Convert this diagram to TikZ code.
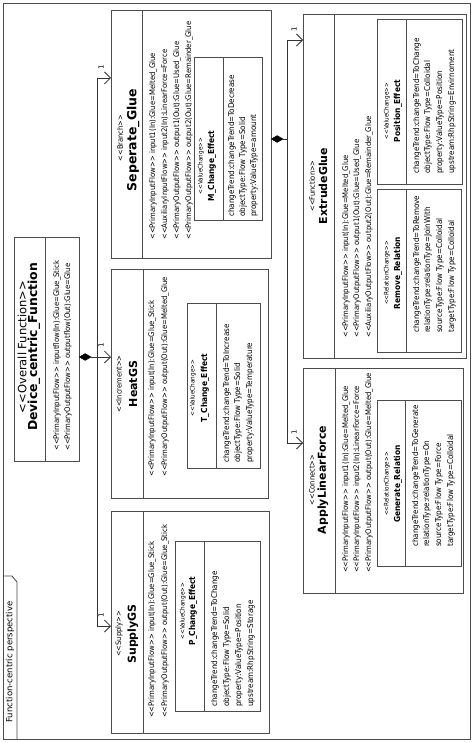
\documentclass[tikz,border=0pt]{standalone}
\usepackage{fontspec}
\usetikzlibrary{arrows.meta,shapes.geometric}
\setmainfont{DejaVu Sans}
\IfFontExistsTF{DejaVu Sans Condensed}
 {\newfontfamily\cf{DejaVu Sans Condensed}}
 {\newfontfamily\cf{DejaVu Sans}[FakeStretch=0.9]}
\newfontfamily\df{DejaVu Sans}
\newcommand\fz[1]{\fontsize{#1}{#1}\selectfont}
\newcommand\stereo[1]{<{}<#1>{}>}
\newcommand\attrf{\cf\fz{7.7}}
\newcommand\iattrf{\cf\fz{8}}
\begin{document}
\begin{tikzpicture}[x=1pt,y=-1pt,
  frm/.style={draw=black!70, line width=0.9pt},
  boxline/.style={draw=black!70, line width=0.9pt},
  umlbox/.style={boxline, rectangle, anchor=north west, inner sep=0, outer sep=0},
  ln/.style={rotate=90, anchor=west, inner sep=0, font=\attrf, text height=5.6pt, text depth=1.6pt},
  iln/.style={ln, font=\iattrf},
  hd/.style={rotate=90, anchor=center, inner sep=0},
  ostereo/.style={hd, font=\cf\fz{7.5}},
  otitle/.style={hd, font=\df\bfseries\fz{11}},
  istereo/.style={hd, font=\cf\fz{6.3}},
  ititle/.style={hd, font=\cf\bfseries\fz{8.3}},
  conn/.style={draw=black!80, line width=0.8pt},
  arr/.style={conn, -{Straight Barb[length=6pt,width=12pt]}},
  dia/.style={diamond, fill=black, draw=black, inner sep=0, minimum width=12pt, minimum height=7pt, anchor=west},
  mult/.style={rotate=90, inner sep=0, font=\df\fz{7}}]
\useasboundingbox (0,0) rectangle (474,743);
\fill[white] (0,0) rectangle (474,743);
% frame
\draw[frm] (3,3) rectangle (470,739);
\draw[frm] (3,576) -- (12,576) -- (17,582) -- (17,739);
\node[hd, font=\df\fz{8.5}] (lab) at (10,662) {Function-centric perspective};

% Device_centric_Function
\node[umlbox, minimum width=65pt, minimum height=224pt] (dev) at (14,237) {};
\draw[boxline] (45,237) -- (45,461);
\node[hd, font=\df\fz{11.5}] (devS) at (22,347) {\stereo{Overall Function}};
\node[hd, font=\df\bfseries\fz{12.4}] (devT) at (34,347) {Device\_centric\_Function};
\node[ln] (devA1) at (57,451) {\stereo{PrimaryInputFlow} inputflow(In):Glue=Glue\_Stick};
\node[ln] (devA2) at (68,451) {\stereo{PrimaryOutputFlow} outputflow(Out):Glue=Glue};

% Seperate_Glue
\node[umlbox, minimum width=160pt, minimum height=248pt] (sg) at (111,10) {};
\draw[boxline] (142,10) -- (142,258);
\node[ostereo] (sgS) at (120,138) {\stereo{Branch}};
\node[otitle, font=\df\bfseries\fz{12.5}] (sgT) at (133,140) {Seperate\_Glue};
\node[ln] (sgA1) at (153,240) {\stereo{PrimaryInputFlow} input1(In):Glue=Melted\_Glue};
\node[ln] (sgA2) at (165,240) {\stereo{AuxiliaryInputFlow} input2(In):LinearForce=Force};
\node[ln] (sgA3) at (177,240) {\stereo{PrimaryOutputFlow} output1(Out):Glue=Used\_Glue};
\node[ln] (sgA4) at (189,240) {\stereo{PrimaryOutputFlow} output2(Out):Glue=Remainder\_Glue};
\node[umlbox, minimum width=68pt, minimum height=163pt] (mce) at (194,57) {};
\draw[boxline] (223,57) -- (223,220);
\node[istereo] (mceS) at (201,166) {\stereo{ValueChange}};
\node[ititle] (mceT) at (212,166) {M\_Change\_Effect};
\node[iln] (mceA1) at (232,217) {changeTrend:changeTrend=ToDecrease};
\node[iln] (mceA2) at (243,217) {objectType:Flow Type=Solid};
\node[iln] (mceA3) at (254,217) {property:ValueType=amount};

% HeatGS
\node[umlbox, minimum width=157pt, minimum height=229pt] (heat) at (111,269) {};
\draw[boxline] (143,269) -- (143,498);
\node[ostereo] (heatS) at (119,384) {\stereo{Increment}};
\node[otitle] (heatT) at (133,384) {HeatGS};
\node[ln] (heatA1) at (152,477) {\stereo{PrimaryInputFlow} input(In):Glue=Glue\_Stick};
\node[ln] (heatA2) at (165,477) {\stereo{PrimaryOutputFlow} output(Out):Glue=Melted\_Glue};
\node[umlbox, minimum width=73pt, minimum height=165pt] (tce) at (187,303) {};
\draw[boxline] (216,303) -- (216,468);
\node[istereo] (tceS) at (193,388) {\stereo{ValueChange}};
\node[ititle] (tceT) at (205,388) {T\_Change\_Effect};
\node[iln] (tceA1) at (227,463) {changeTrend:changeTrend=ToIncrease};
\node[iln] (tceA2) at (238,463) {objectType:Flow Type=Solid};
\node[iln] (tceA3) at (250,463) {property:ValueType=Temperature};

% SupplyGS
\node[umlbox, minimum width=158pt, minimum height=222pt] (sup) at (111,511) {};
\draw[boxline] (143,511) -- (143,733);
\node[ostereo] (supS) at (119,634) {\stereo{Supply}};
\node[otitle] (supT) at (133,634) {SupplyGS};
\node[ln] (supA1) at (152,718) {\stereo{PrimaryInputFlow} input(In):Glue=Glue\_Stick};
\node[ln] (supA2) at (165,718) {\stereo{PrimaryOutputFlow} output(Out):Glue=Glue\_Stick};
\node[umlbox, minimum width=85pt, minimum height=170pt] (pce) at (175,541) {};
\draw[boxline] (204,541) -- (204,711);
\node[istereo] (pceS) at (183,611) {\stereo{ValueChange}};
\node[ititle] (pceT) at (193,611) {P\_Change\_Effect};
\node[iln] (pceA1) at (215,707) {changeTrend:changeTrend=ToChange};
\node[iln] (pceA2) at (227,707) {objectType:Flow Type=Solid};
\node[iln] (pceA3) at (239,707) {property:ValueType=Position};
\node[iln] (pceA4) at (251,707) {upstream:RhpString=Storage};

% ExtrudeGlue
\node[umlbox, minimum width=163pt, minimum height=344pt] (ext) at (303,14) {};
\draw[boxline] (334,14) -- (334,358);
\node[ostereo] (extS) at (312,186) {\stereo{Function}};
\node[otitle] (extT) at (323,186) {ExtrudeGlue};
\node[ln] (extA1) at (346,338) {\stereo{PrimaryInputFlow} input(In):Glue=Melted\_Glue};
\node[ln] (extA2) at (357,338) {\stereo{PrimaryOutputFlow} output1(Out):Glue=Used\_Glue};
\node[ln] (extA3) at (369,338) {\stereo{AuxiliaryOutputFlow} output2(Out):Glue=Remainder\_Glue};
\node[umlbox, minimum width=85pt, minimum height=165pt] (pos) at (377,19) {};
\draw[boxline] (406,19) -- (406,184);
\node[istereo] (posS) at (387,111) {\stereo{ValueChange}};
\node[ititle] (posT) at (398,111) {Position\_Effect};
\node[iln] (posA1) at (417,174) {changeTrend:changeTrend=ToChange};
\node[iln] (posA2) at (428,174) {objectType:Flow Type=Colloidal};
\node[iln] (posA3) at (440,174) {property:ValueType=Position};
\node[iln] (posA4) at (452,174) {upstream:RhpString=Envirnoment};
\node[umlbox, minimum width=84pt, minimum height=163pt] (rem) at (377,189) {};
\draw[boxline] (406,189) -- (406,352);
\node[istereo] (remS) at (387,273) {\stereo{RelationChange}};
\node[ititle] (remT) at (398,273) {Remove\_Relation};
\node[iln] (remA1) at (417,333) {changeTrend:changeTrend=ToRemove};
\node[iln] (remA2) at (428,333) {relationType:relationType=JoinWith};
\node[iln] (remA3) at (440,333) {sourceType:Flow Type=Colloidal};
\node[iln] (remA4) at (452,333) {targetType:Flow Type=Colloidal};

% ApplyLinearForce
\node[umlbox, minimum width=160pt, minimum height=225pt] (alf) at (303,368) {};
\draw[boxline] (335,368) -- (335,593);
\node[ostereo] (alfS) at (312,480) {\stereo{Connect}};
\node[otitle] (alfT) at (323,480) {ApplyLinearForce};
\node[ln] (alfA1) at (346,573) {\stereo{PrimaryInputFlow} input1(In):Glue=Melted\_Glue};
\node[ln] (alfA2) at (357,573) {\stereo{PrimaryInputFlow} input2(In):LinearForce=Force};
\node[ln] (alfA3) at (369,573) {\stereo{PrimaryOutputFlow} output(Out):Glue=Melted\_Glue};
\node[umlbox, minimum width=84pt, minimum height=166pt] (gen) at (377,400) {};
\draw[boxline] (405,400) -- (405,566);
\node[istereo] (genS) at (387,484) {\stereo{RelationChange}};
\node[ititle] (genT) at (398,484) {Generate\_Relation};
\node[iln] (genA1) at (416,547) {changeTrend:changeTrend=ToGenerate};
\node[iln] (genA2) at (427,547) {relationType:relationType=On};
\node[iln] (genA3) at (439,547) {sourceType:Flow Type=Force};
\node[iln] (genA4) at (451,547) {targetType:Flow Type=Colloidal};

% connectors (left)
\node[dia] (d1) at (79,357) {};
\coordinate (bL1) at (97,78);
\coordinate (bL2) at (97,626);
\draw[conn] (bL1) -- (bL2);
\draw[arr] (d1.east) -- (heat.west |- d1.east);
\draw[arr] (bL1) -- (sg.west |- bL1);
\draw[arr] (bL2) -- (sup.west |- bL2);
\node[mult] (m1) at (101,67) {1};
\node[mult] (m2) at (101,345) {1};
\node[mult] (m3) at (101,615) {1};
% connectors (right)
\node[dia] (d2) at (271,139) {};
\coordinate (bR1) at (287,40);
\coordinate (bR2) at (287,443);
\draw[conn] (bR1) -- (bR2);
\draw[conn] (d2.east) -- (bR1 |- d2.east);
\draw[arr] (bR1) -- (ext.west |- bR1);
\draw[arr] (bR2) -- (alf.west |- bR2);
\node[mult] (m4) at (294,29) {1};
\node[mult] (m5) at (294,432) {1};
\end{tikzpicture}
\end{document}
